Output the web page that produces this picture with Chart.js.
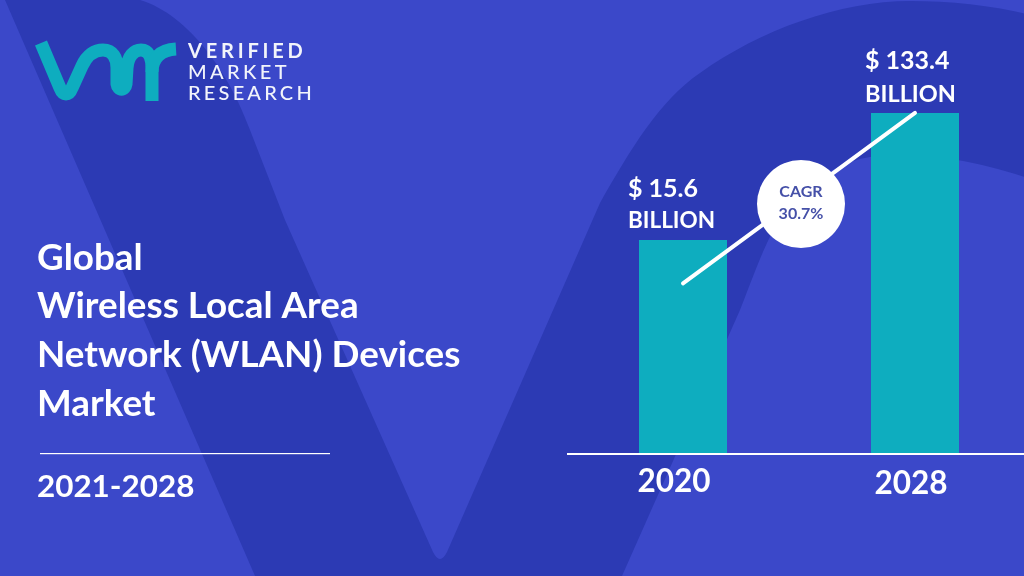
<!DOCTYPE html>
<html>
<head>
<meta charset="utf-8">
<style>
html,body{margin:0;padding:0;background:#3b48c9;overflow:hidden}
#wrap{position:relative;width:1024px;height:576px;overflow:hidden}
</style>
<script src="https://cdn.jsdelivr.net/npm/chart.js@4"></script>
</head>
<body>
<div id="wrap"><canvas id="my_chart" width="1031" height="576"></canvas></div>
<script>
// chart data
const years = ['2020', '2028'];
const marketSize = [15.6, 133.4];
const cagrLine = [7.5, 133.4];
const cagrLabel = ['CAGR', '30.7%'];
const titleLines = ['Global', 'Wireless Local Area', 'Network (WLAN) Devices', 'Market'];
const period = '2021-2028';
const logoLines = ['VERIFIED', 'MARKET', 'RESEARCH'];

const BASE = '#3b48c9', DARK = '#2c3ab4', TEAL = '#0eadbf', FONT = 'Lato, "Open Sans", sans-serif';

function drawBackground(c) {
  c.fillStyle = BASE;
  c.fillRect(0, 0, 1031, 576);
  // the big V, one dark shape with the light wedge left open
  c.fillStyle = DARK;
  c.beginPath();
  c.moveTo(5, 0);
  c.lineTo(140, 0);
  c.bezierCurveTo(190, 15, 230, 75, 250, 130);
  c.lineTo(285, 220);
  c.lineTo(433, 552);
  c.quadraticCurveTo(440, 566, 447, 552);
  c.lineTo(600, 203);
  c.bezierCurveTo(630, 150, 660, 100, 700, 73);
  c.bezierCurveTo(760, 30, 840, 1, 910, 1);
  c.bezierCurveTo(950, 1, 990, 5, 1031, 15);
  c.lineTo(1031, 179);
  c.bezierCurveTo(975, 160, 915, 150, 870, 157);
  c.bezierCurveTo(820, 165, 785, 205, 767, 243);
  c.bezierCurveTo(758, 262, 748, 290, 740, 310);
  c.lineTo(622, 576);
  c.lineTo(255, 576);
  c.closePath();
  c.fill();
}

function drawLogo(c) {
  c.strokeStyle = TEAL;
  c.lineWidth = 13;
  c.lineCap = 'butt';
  c.lineJoin = 'round';
  c.beginPath();
  c.moveTo(41, 43);
  c.lineTo(60, 88);
  c.bezierCurveTo(63, 96, 69, 96, 72, 88);
  c.lineTo(82, 66);
  c.bezierCurveTo(87, 55, 95, 50, 103, 50);
  c.bezierCurveTo(113, 50, 117, 58, 117, 68);
  c.lineTo(117, 84);
  c.bezierCurveTo(118, 91, 125, 91, 126, 84);
  c.lineTo(127, 68);
  c.bezierCurveTo(128, 56, 134, 50, 141, 50);
  c.bezierCurveTo(149, 50, 152, 58, 152, 68);
  c.lineTo(152, 101);
  c.stroke();
  c.beginPath();
  c.moveTo(152, 72);
  c.bezierCurveTo(152, 58, 160, 50, 176, 49);
  c.stroke();
  c.fillStyle = '#f2f4fb';
  c.textAlign = 'left';
  c.textBaseline = 'alphabetic';
  c.font = '700 20px ' + FONT;
  c.letterSpacing = '3.8px';
  c.fillText(logoLines[0], 188, 58);
  c.font = '500 20px ' + FONT;
  c.letterSpacing = '3.4px';
  c.fillText(logoLines[1], 188, 79);
  c.letterSpacing = '3.2px';
  c.fillText(logoLines[2], 188, 100);
  c.letterSpacing = '0px';
}

function drawText(c, chart) {
  c.fillStyle = '#ffffff';
  c.textAlign = 'left';
  c.textBaseline = 'alphabetic';
  c.font = '700 36.8px ' + FONT;
  titleLines.forEach((t, i) => c.fillText(t, 37, 269.5 + i * 48.7));
  c.font = '700 31.4px ' + FONT;
  c.fillText(period, 37, 497);
  c.fillRect(40, 453, 290, 1.2);
  c.fillRect(567, 453, 457, 2);

  const x = chart.scales.x;
  c.textAlign = 'center';
  c.font = '700 31.5px ' + FONT;
  c.fillText(years[0], x.getPixelForValue(0) - 9, 492);
  c.fillText(years[1], x.getPixelForValue(1) - 4, 494);

  c.textAlign = 'left';
  c.font = '700 25px ' + FONT;
  c.fillText('$ ' + marketSize[0], 628, 197);
  c.fillText('$ ' + marketSize[1], 865, 69);
  c.font = '700 22.5px ' + FONT;
  c.fillText('BILLION', 628, 228);
  c.font = '700 23.5px ' + FONT;
  c.fillText('BILLION', 865, 102);
}

function drawBubble(c) {
  c.fillStyle = '#ffffff';
  c.beginPath();
  c.arc(801, 204, 44, 0, Math.PI * 2);
  c.fill();
  c.fillStyle = '#4550a8';
  c.textAlign = 'center';
  c.font = '700 16px ' + FONT;
  c.fillText(cagrLabel[0], 801, 197);
  c.fillText(cagrLabel[1], 801, 219);
}

const decor = {
  id: 'decor',
  beforeDraw(chart) {
    const c = chart.ctx;
    c.save();
    drawBackground(c);
    drawLogo(c);
    c.restore();
  },
  afterDraw(chart) {
    const c = chart.ctx;
    c.save();
    drawText(c, chart);
    drawBubble(c);
    c.restore();
  }
};

new Chart(document.getElementById('my_chart').getContext('2d'), {
  data: {
    labels: years,
    datasets: [
      { type: 'line', data: cagrLine, borderColor: '#ffffff', borderWidth: 4, borderCapStyle: 'round', pointRadius: 0, order: 1 },
      { type: 'bar', data: marketSize, backgroundColor: TEAL, barPercentage: 88 / 232, categoryPercentage: 1, order: 2 }
    ]
  },
  options: {
    responsive: false,
    animation: false,
    layout: { padding: { left: 567, right: 0, top: 0, bottom: 123 } },
    plugins: { legend: { display: false }, tooltip: { enabled: false } },
    scales: {
      x: { display: false, offset: true },
      // log scale: keeps the real values while matching the bar heights of the picture
      y: { display: false, type: 'logarithmic', min: 0.426, max: 900 }
    }
  },
  plugins: [decor]
});
</script>
</body>
</html>
